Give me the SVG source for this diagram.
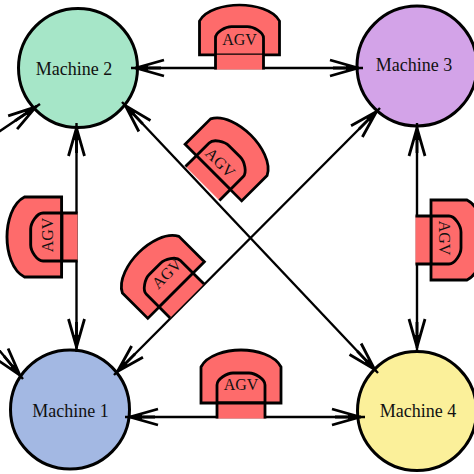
<svg xmlns="http://www.w3.org/2000/svg" width="474" height="474" viewBox="0 0 474 474">
<style>
.m{stroke:#000;stroke-width:3}
.c{fill:none;stroke:#000;stroke-width:2.4}
.b{fill:#fe6b6b;stroke:#000;stroke-width:2.8;stroke-linejoin:miter}
.w{fill:none;stroke:#000;stroke-width:2.8}
.f{fill:#fe6b6b;stroke:none}
text{font-family:"Liberation Serif","Times New Roman",serif;fill:#111;text-anchor:middle}
.l{font-size:18px}
.a{font-size:16px}
</style>
<defs>
<marker id="h" markerUnits="userSpaceOnUse" markerWidth="44" markerHeight="30" viewBox="-38 -15 44 30" refX="0" refY="0" orient="auto-start-reverse">
<path d="M-33-8L-5 0L-33 8M-30 0H-4" fill="none" stroke="#000" stroke-width="2.8"/>
<path d="M-17-2.500L0 0L-17 2.500Z" fill="#000"/>
</marker>
<g id="agv">
<path class="b" d="M-40-14V-50C-34-62-15-67 0-67C15-67 34-62 40-50V-14Z"/>
<path class="f" d="M-24-14H24V1.500H-24Z"/>
<path class="w" d="M-24 1.500V-32C-24-38-14-44-8-44H8C14-44 24-38 24-32V1.500"/>
</g>
<path id="agvbase" class="w" d="M-24-14H24"/>
</defs>
<g id="machine-2"><circle class="m" cx="78" cy="68" r="59.500" fill="#a6e6c8"/><text class="l" x="74" y="75">Machine 2</text></g>
<g id="machine-1"><circle class="m" cx="70" cy="409.500" r="59.500" fill="#a3b8e3"/><text class="l" x="70.500" y="417">Machine 1</text></g>
<g id="machine-3"><circle class="m" cx="417" cy="66" r="60" fill="#d3a3e8"/><text class="l" x="414" y="71">Machine 3</text></g>
<g id="machine-4"><circle class="m" cx="417" cy="411" r="59.500" fill="#fbf09a"/><text class="l" x="418" y="417">Machine 4</text></g>
<g id="connectors" class="c">
<path d="M131 68H363" marker-start="url(#h)" marker-end="url(#h)"/>
<path d="M125 417H365" marker-start="url(#h)" marker-end="url(#h)"/>
<path d="M76.500 123V352" marker-start="url(#h)" marker-end="url(#h)"/>
<path d="M417 123V352" marker-start="url(#h)" marker-end="url(#h)"/>
<path d="M122 102L378 373" marker-start="url(#h)" marker-end="url(#h)"/>
<path d="M114 375L380 108" marker-start="url(#h)" marker-end="url(#h)"/>
<path d="M-6 135L40 104" marker-end="url(#h)"/>
<path d="M-6 344L23 379" marker-end="url(#h)"/>
</g>
<g id="agv-top"><use href="#agv" transform="translate(239.500,68) scale(1,.94)"/><text class="a" x="239.500" y="45">AGV</text></g>
<g id="agv-bottom"><use href="#agv" transform="translate(241,417)"/><use href="#agvbase" transform="translate(241,417)"/><text class="a" x="241" y="390">AGV</text></g>
<g id="agv-left"><use href="#agv" transform="translate(76,237) rotate(-90) scale(1,1.03)"/><use href="#agvbase" transform="translate(76,237) rotate(-90)"/><text class="a" transform="translate(53,235) rotate(-90)">AGV</text></g>
<g id="agv-right"><use href="#agv" transform="translate(417,240) rotate(90)"/><use href="#agvbase" transform="translate(417,240) rotate(90)"/><text class="a" transform="translate(438.500,238) rotate(90)">AGV</text></g>
<g id="agv-ne"><use href="#agv" transform="translate(203.500,182.500) rotate(45)"/><use href="#agvbase" transform="translate(203.500,182.500) rotate(45)"/><text class="a" transform="translate(216.500,166.500) rotate(45)">AGV</text></g>
<g id="agv-sw"><use href="#agv" transform="translate(186,300) rotate(-45)"/><use href="#agvbase" transform="translate(186,300) rotate(-45)"/><text class="a" transform="translate(170.500,277.500) rotate(-45)">AGV</text></g>
</svg>
